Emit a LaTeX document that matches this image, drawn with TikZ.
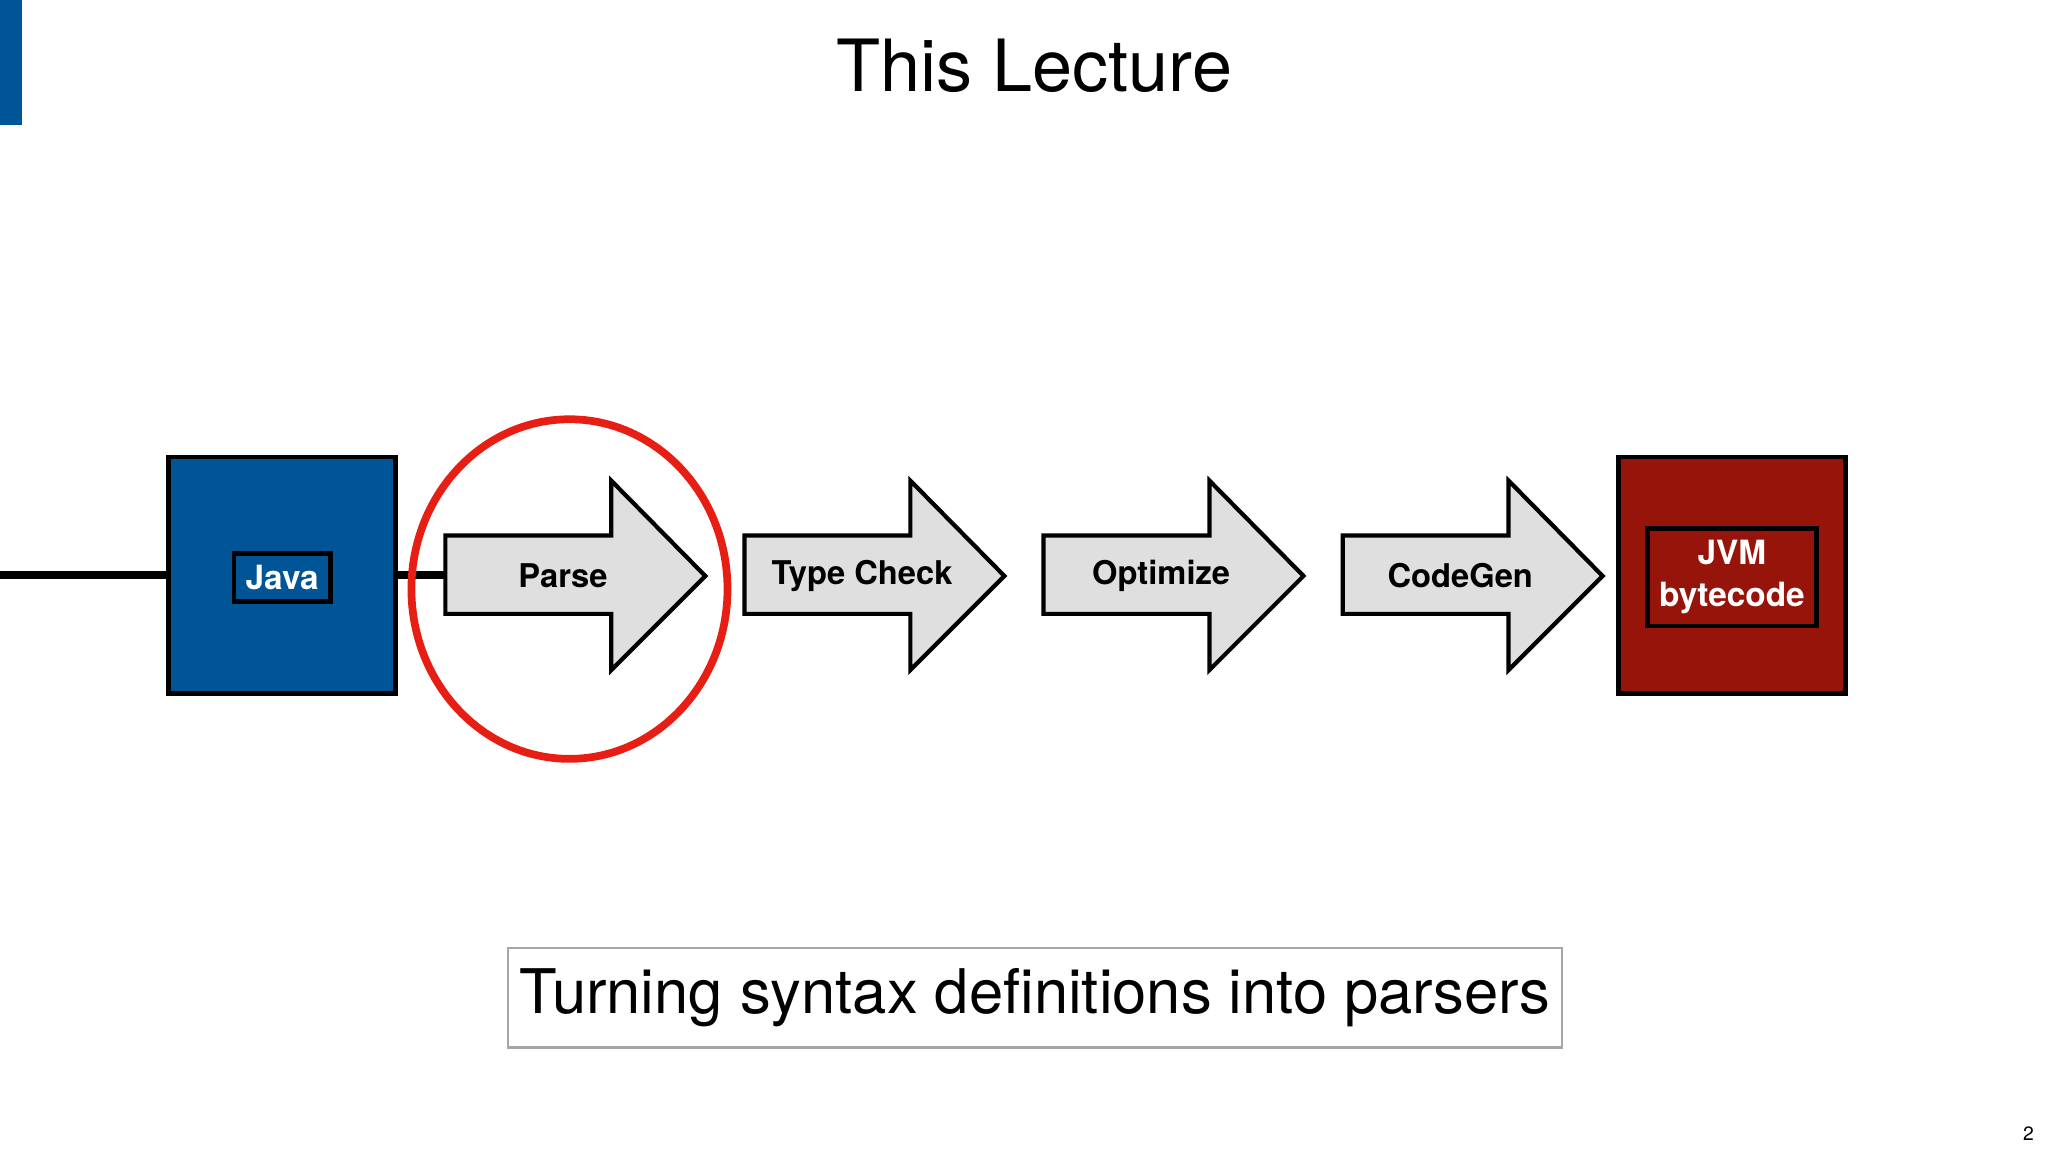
\documentclass[tikz,border=0pt]{standalone}
\usepackage{fontspec}
\setmainfont{TeX Gyre Heros}
\begin{document}
\begin{tikzpicture}[x=0.013061cm,y=-0.013061cm,
  blk/.style={draw=black,line width=1.3pt,font=\fontsize{9.5}{11}\selectfont\bfseries,text=white,align=center},
  arr/.style={draw=black,line width=1.2pt,fill=gray!25},
  lbl/.style={font=\fontsize{9.3}{11}\selectfont\bfseries}]
\useasboundingbox (0,0) rectangle (1568,882);
\fill[fill={rgb,255:red,0;green,85;blue,150}] (0,0) rectangle (17,96);
\node[font=\fontsize{20.5}{24}\selectfont] (title) at (792,50) {This Lecture};
\node[blk,fill={rgb,255:red,0;green,85;blue,150},minimum width=174\pgflinewidth,inner sep=0] (java) at (216,440.5) {};
\draw[blk,fill={rgb,255:red,0;green,85;blue,150}] (129,350) rectangle (303,531);
\node[blk] (javat) at (216,442) {Java};
\draw[blk,fill={rgb,255:red,150;green,20;blue,10}] (1239,350) rectangle (1413,531);
\node[blk] (jvm) at (1326,442) {JVM\\[1pt]bytecode};
\foreach \dx/\t/\n in {0/Parse/a1,229/Type Check/a2,458/Optimize/a3,687/CodeGen/a4}{
  \begin{scope}[shift={(\dx*0.013061cm,0)}]
  \draw[arr,line join=miter] (341,410) -- (468,410) -- (468,368) -- (540,441) -- (468,513) -- (468,470) -- (341,470) -- cycle;
  \node[lbl] (\n) at (431,441) {\t};
  \end{scope}}
\draw[line width=2.2pt,color={rgb,255:red,230;green,30;blue,20}] (436,451) ellipse (121 and 130);
\node[draw=gray!70,line width=0.6pt,minimum width=761*0.013061cm,minimum height=76*0.013061cm,font=\fontsize{17.5}{20}\selectfont] (sub) at (792.5,764) {Turning syntax definitions into parsers};
\node[font=\fontsize{5.5}{6}\selectfont] (pg) at (1553,868) {2};
\end{tikzpicture}
\end{document}
